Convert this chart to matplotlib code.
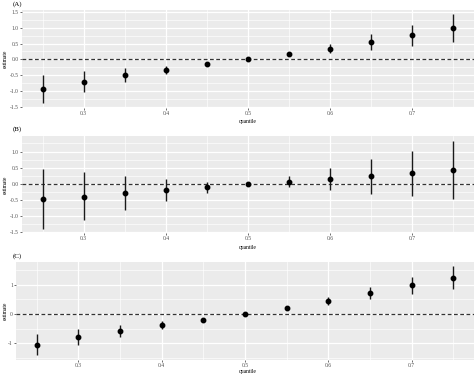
import numpy as np
import matplotlib.pyplot as plt
from matplotlib.ticker import MultipleLocator

# quantile levels shared by all three panels
quantiles = [0.25, 0.30, 0.35, 0.40, 0.45, 0.50, 0.55, 0.60, 0.65, 0.70, 0.75]

# (A)
est_a = [-0.94, -0.70, -0.50, -0.32, -0.155, 0.0, 0.16, 0.33, 0.56, 0.76, 0.99]
lo_a = [-1.37, -1.03, -0.72, -0.47, -0.19, -0.02, 0.13, 0.19, 0.31, 0.43, 0.56]
hi_a = [-0.50, -0.36, -0.26, -0.19, -0.12, 0.02, 0.19, 0.49, 0.80, 1.08, 1.41]

# (B)
est_b = [-0.48, -0.40, -0.27, -0.18, -0.09, 0.0, 0.07, 0.14, 0.23, 0.34, 0.44]
lo_b = [-1.41, -1.12, -0.80, -0.54, -0.27, -0.03, -0.10, -0.20, -0.30, -0.38, -0.48]
hi_b = [0.46, 0.36, 0.25, 0.15, 0.07, 0.03, 0.25, 0.48, 0.77, 1.03, 1.34]

# (C)
est_c = [-1.05, -0.78, -0.58, -0.37, -0.19, 0.0, 0.21, 0.44, 0.72, 0.98, 1.25]
lo_c = [-1.40, -1.05, -0.78, -0.51, -0.22, -0.03, 0.18, 0.31, 0.50, 0.69, 0.87]
hi_c = [-0.69, -0.50, -0.38, -0.25, -0.16, 0.03, 0.24, 0.58, 0.94, 1.27, 1.64]

panels = [
    ("(A)", est_a, lo_a, hi_a, (-1.52, 1.55), 0.5, [-1.5, -1.0, -0.5, 0.0, 0.5, 1.0, 1.5], "{:.1f}"),
    ("(B)", est_b, lo_b, hi_b, (-1.52, 1.48), 0.5, [-1.5, -1.0, -0.5, 0.0, 0.5, 1.0], "{:.1f}"),
    ("(C)", est_c, lo_c, hi_c, (-1.57, 1.78), 1.0, [-1, 0, 1], "{:.0f}"),
]

W, H = 474, 376
# pixel boxes: left, top, bottom
boxes = [(22, 10, 108), (22, 136, 233), (16, 262, 360)]
label_y = [4, 129, 256]
xlab_y = [121, 247, 372]

plt.rcParams['font.family'] = ['Liberation Serif', 'DejaVu Serif']
fig = plt.figure(figsize=(W / 100, H / 100), dpi=100)

for (tag, est, lo, hi, ylim, step, ticks, fmt), (l, t, b), ly, xy in zip(panels, boxes, label_y, xlab_y):
    ax = fig.add_axes([l / W, 1 - b / H, (W - l) / W, (b - t) / H])
    ax.set_facecolor('#EBEBEB')
    for s in ax.spines.values():
        s.set_visible(False)
    ax.set_xlim(0.225, 0.775)
    ax.set_ylim(*ylim)
    ax.xaxis.set_major_locator(MultipleLocator(0.1))
    ax.xaxis.set_minor_locator(MultipleLocator(0.05))
    ax.set_yticks(ticks)
    ax.set_yticklabels([fmt.format(v) for v in ticks])
    ax.yaxis.set_minor_locator(MultipleLocator(step / 2))
    ax.grid(which='major', color='white', lw=0.9)
    ax.grid(which='minor', color='white', lw=0.45)
    ax.set_axisbelow(True)
    ax.tick_params(which='major', length=1.5, width=0.5, color='#333333', labelsize=4,
                   labelcolor='#4D4D4D', pad=0.8)
    ax.tick_params(which='minor', length=0)
    ax.set_xticklabels(["{:.1f}".format(v) for v in ax.get_xticks()])
    ax.axhline(0, color='#333333', lw=0.9, ls=(0, (3, 2)), zorder=2)
    ax.vlines(quantiles, lo, hi, color='#1a1a1a', lw=1.0, zorder=3)
    ax.plot(quantiles, est, 'o', color='black', ms=3.2, zorder=4)
    fig.text(13 / W, 1 - ly / H, tag, fontsize=5, va='center', ha='left')
    fig.text(5 / W, 1 - (t + b) / 2 / H, 'estimate', fontsize=4, rotation=90,
             va='center', ha='center')
    fig.text(248 / W, 1 - xy / H, 'quantile', fontsize=4, va='center', ha='center')

fig.savefig('out.png', dpi=100)
